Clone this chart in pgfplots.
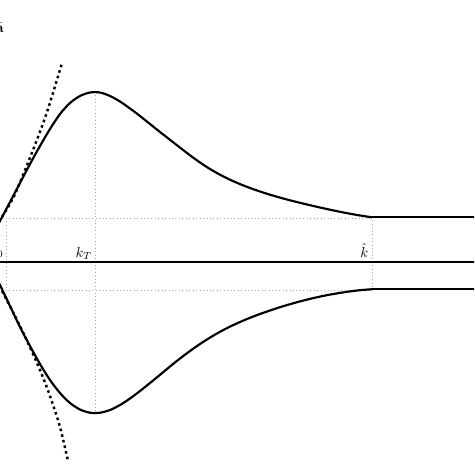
\documentclass[border=0pt]{standalone}
\usepackage{pgfplots}
\pgfplotsset{compat=1.18}
\usepackage{amsmath}

\begin{document}
\begin{tikzpicture}
  \begin{axis}[
    scale only axis,
    width=329pt, height=329pt,
    xmin=0, xmax=474, ymin=0, ymax=474,
    y dir=reverse,
    hide axis,
    clip=true]
    % guide lines
    \addplot[gray!70, dotted, line width=0.4pt] coordinates {(6,218) (372,218)};
    \addplot[gray!70, dotted, line width=0.4pt] coordinates {(6,290) (372,290)};
    \addplot[gray!70, dotted, line width=0.4pt] coordinates {(6,218) (6,290)};
    \addplot[gray!70, dotted, line width=0.4pt] coordinates {(95,92) (95,413)};
    \addplot[gray!70, dotted, line width=0.4pt] coordinates {(372,217) (372,290)};
    % axis line
    \addplot[black, line width=1.4pt] coordinates {(-5,262) (480,262)};
    % asymptotes
    \addplot[black, line width=1.7pt, dash pattern=on 1.8pt off 2.2pt, smooth] coordinates {
      (2,217) (15,194) (33,150) (47,112) (62,63)};
    \addplot[black, line width=1.7pt, dash pattern=on 1.8pt off 2.2pt, smooth] coordinates {
      (2,291) (15,316) (28,343) (40,370) (50,396) (60,427) (68,461)};
    % upper envelope
    \addplot[black, line width=1.5pt, smooth] coordinates {
      (-10,240) (0,221) (10,202) (20,183) (30,164) (40,146) (50,129) (60,114)
      (70,103) (80,96) (90,92.5) (100,92.5) (110,96) (120,101.5) (130,108.5)
      (140,116) (150,124) (160,132) (170,139.8) (180,147.6) (190,155.3)
      (200,162.5) (210,169) (220,174.7) (230,179.7) (240,184.1) (250,188)
      (260,191.5) (270,194.7) (280,197.6) (290,200.3) (300,202.8) (310,205.2)
      (320,207.5) (330,209.7) (340,211.8) (350,213.7) (360,215.5) (372,217.3)};
    \addplot[black, line width=1.5pt] coordinates {(372,217.3) (480,217.3)};
    % lower envelope
    \addplot[black, line width=1.5pt, smooth] coordinates {
      (-10,265) (0,285) (10,306) (20,327) (30,346) (40,364) (50,380) (60,393)
      (70,403) (80,409.5) (90,412.7) (100,412.7) (110,410) (120,405)
      (130,398.5) (140,391) (150,383) (160,374.8) (170,366.5) (180,358.5)
      (190,351) (200,344) (210,337.6) (220,331.8) (230,326.6) (240,322)
      (250,317.8) (260,314) (270,310.5) (280,307.2) (290,304.2) (300,301.4)
      (310,298.9) (320,296.6) (330,294.6) (340,292.9) (350,291.4) (360,290.2)
      (372,289.2)};
    \addplot[black, line width=1.5pt] coordinates {(372,289.2) (480,289.2)};
    % labels
    \node[anchor=base east, inner sep=1pt] at (axis cs:94,257) {$k_T$};
    \node[anchor=base east, inner sep=1pt] at (axis cs:370,257) {$\hat{k}$};
    \node[anchor=base east, inner sep=0pt] at (axis cs:4,255) {$k_0$};
    \node[anchor=east, inner sep=0pt] at (axis cs:4,28) {$\bar{\mathbf{a}}$};
  \end{axis}
  \pgfresetboundingbox
  \path[use as bounding box] (0,0) rectangle (329pt,329pt);
\end{tikzpicture}
\end{document}
